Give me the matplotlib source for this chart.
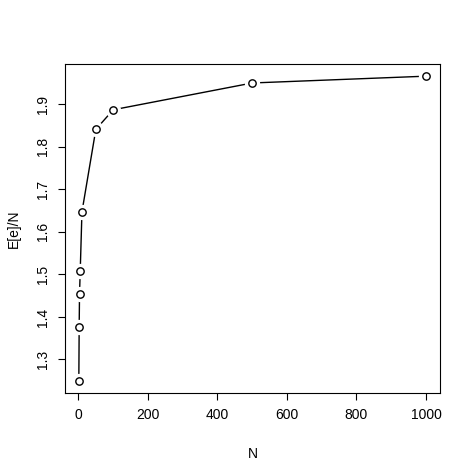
import matplotlib
matplotlib.use("Agg")
import matplotlib.pyplot as plt

plt.rcParams['font.family'] = ['Liberation Sans', 'DejaVu Sans']

## data
n_values = [1, 2, 3, 5, 10, 50, 100, 500, 1000]
ratio = [1.250, 1.376, 1.454, 1.507, 1.647, 1.841, 1.887, 1.950, 1.966]

x_ticks = [0, 200, 400, 600, 800, 1000]
y_ticks = [1.3, 1.4, 1.5, 1.6, 1.7, 1.8, 1.9]

fig = plt.figure(figsize=(4.74, 4.74), dpi=100)
ax = fig.add_axes([0.137, 0.171, 0.791, 0.694])

# R style type="b": line, white gap round each point, open circle
ax.plot(n_values, ratio, color='black', lw=1, zorder=1)
ax.plot(n_values, ratio, ls='none', marker='o', ms=10, mfc='white', mec='white', zorder=2)
ax.plot(n_values, ratio, ls='none', marker='o', ms=5.3, mfc='white', mec='black', mew=1, zorder=3)

span = max(n_values) - min(n_values)
ax.set_xlim(min(n_values) - 0.04 * span, max(n_values) + 0.04 * span)
yspan = max(ratio) - min(ratio)
ax.set_ylim(min(ratio) - 0.04 * yspan, max(ratio) + 0.04 * yspan)

ax.set_xticks(x_ticks)
ax.set_yticks(y_ticks)
ax.set_xticklabels([str(t) for t in x_ticks])
ax.set_yticklabels([f"{t:.1f}" for t in y_ticks], rotation=90, va='center')
ax.tick_params(direction='out', length=5, width=0.8, labelsize=10, pad=6)

for s in ax.spines.values():
    s.set_linewidth(0.8)

ax.set_xlabel('N', fontsize=10, labelpad=18)
ax.set_ylabel('E[e]/N', fontsize=10, labelpad=11)

fig.savefig('out.png', dpi=100)
